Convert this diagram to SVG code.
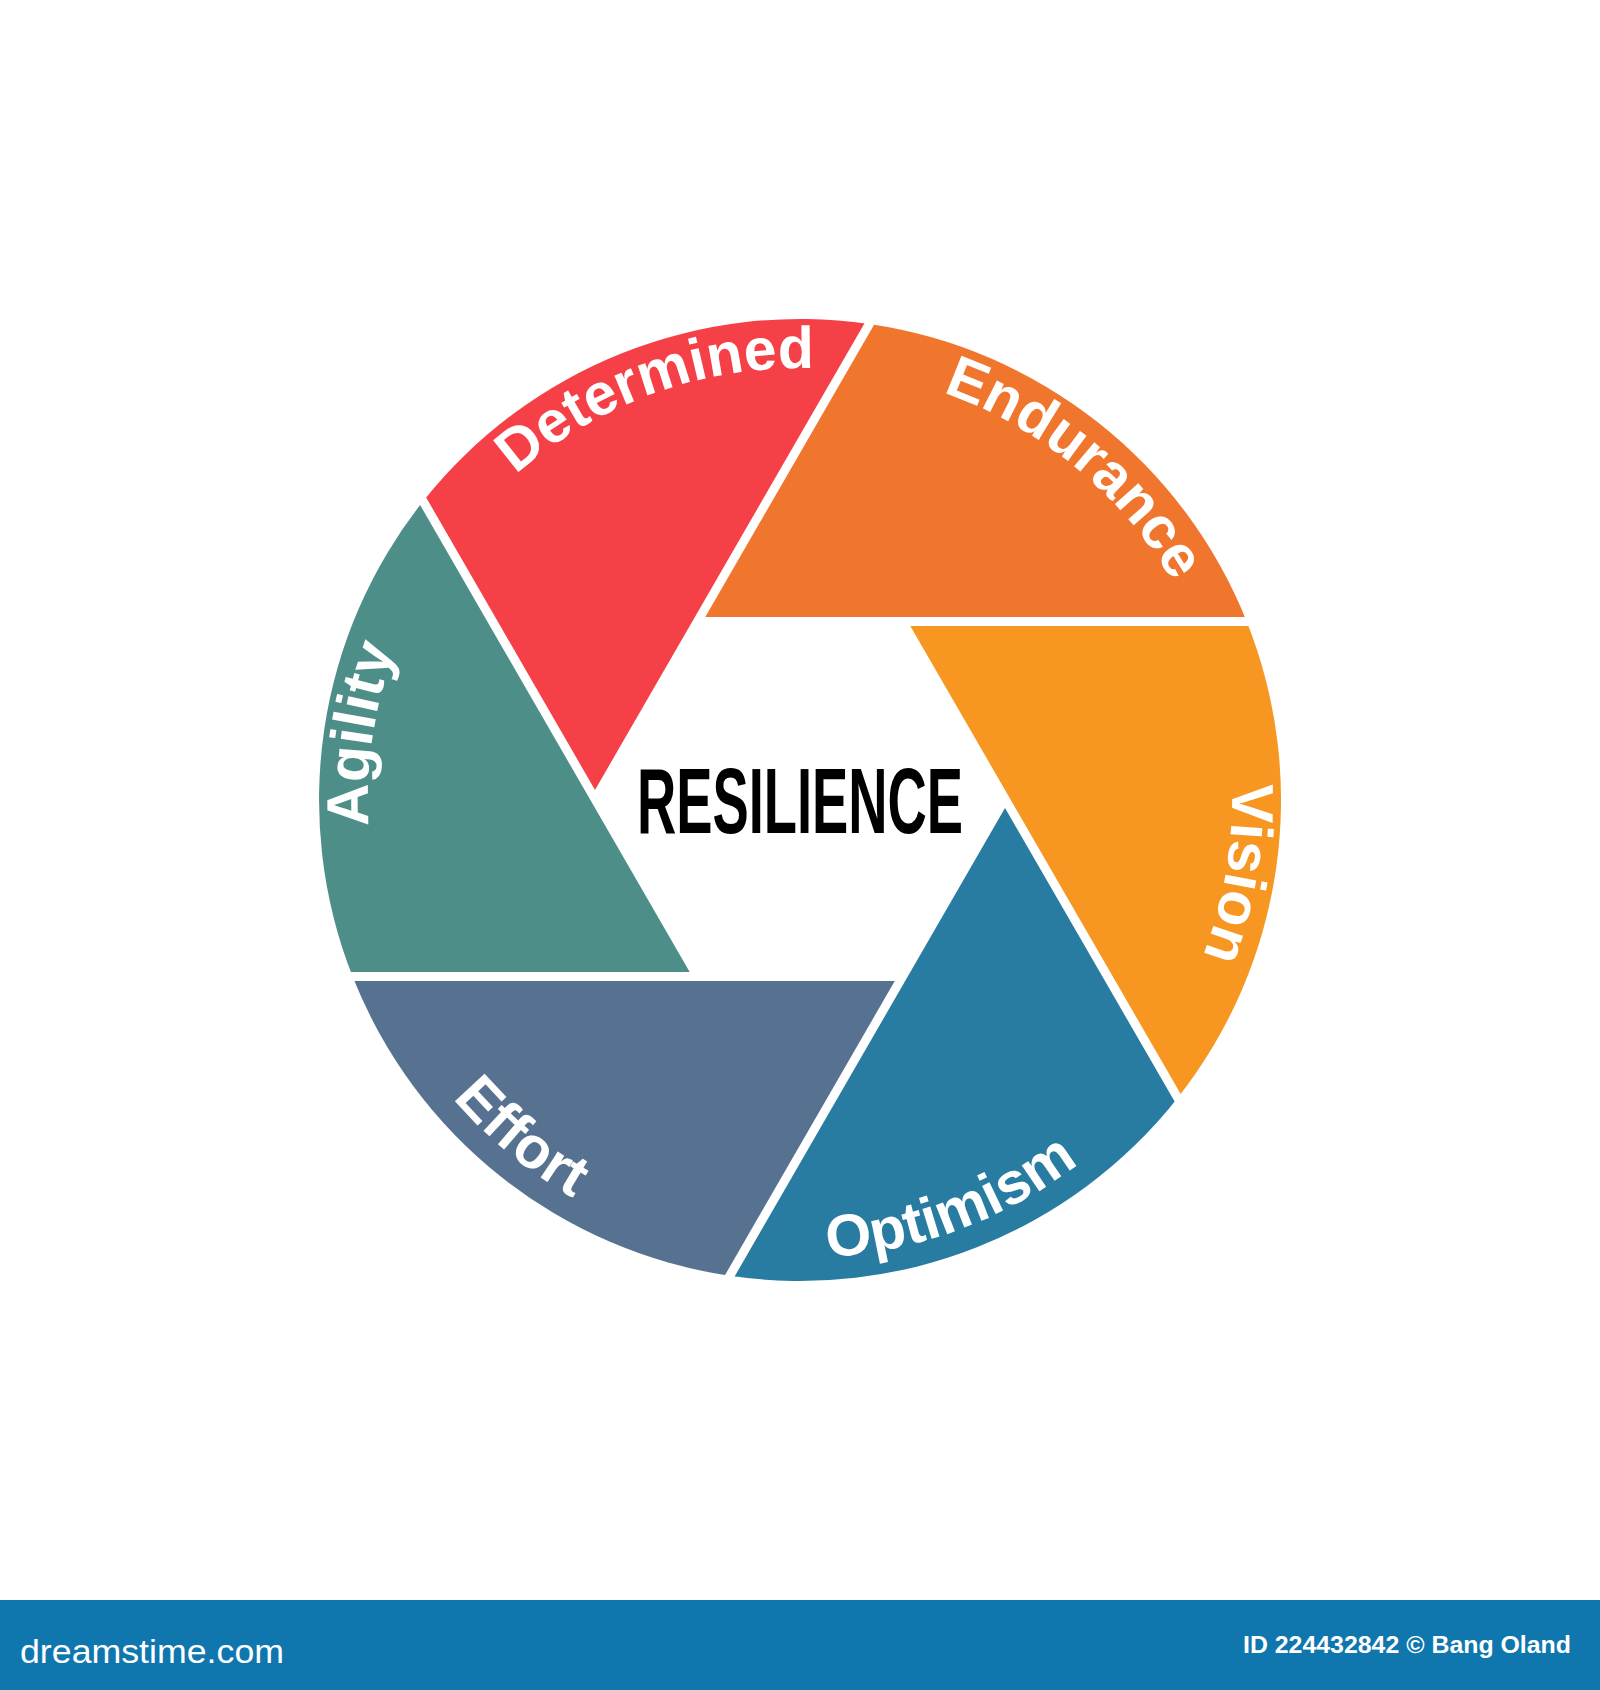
<svg xmlns="http://www.w3.org/2000/svg" width="1600" height="1690" viewBox="0 0 1600 1690">
  <style>
    .lbl { font-family: "Liberation Sans", Arial, sans-serif; font-weight: bold; font-size: 59px; fill: #ffffff; }
    .gap { stroke: #ffffff; stroke-width: 9; fill: none; }
    .title { font-family: "Liberation Sans", Arial, sans-serif; font-weight: bold; font-size: 92px; fill: #000000; }
    .foot { font-family: "Liberation Sans", Arial, sans-serif; fill: #ffffff; }
  </style>
  <defs>
    <path id="arcVision" d="M1012.7,424 A432,432 0 0 1 878.7,1224.8"/>
    <path id="arcOptimism" d="M451.7,1097.4 A458,458 0 0 0 1258,796"/>
    <path id="arcEffort" d="M368.3,647.1 A458,458 0 0 0 1032.4,1194.6"/>
    <path id="arcAgility" d="M587.3,1176 A432,432 0 0 1 721.3,375.2"/>
    <path id="arcDetermined" d="M368,803.8 A432,432 0 0 1 1128.5,519.5"/>
    <path id="arcEndurance" d="M580.8,427.8 A432,432 0 0 1 1207.2,944.2"/>
  </defs>
  <rect width="1600" height="1690" fill="#ffffff"/>

  <g id="blade-endurance">
    <path d="M697.5,621.5 L869.3,324 A481,481 0 0 1 1246.7,621.5 L902.5,621.5 Z" fill="#F0762E"/>
    <text class="lbl"><textPath href="#arcEndurance" startOffset="50%" text-anchor="middle">Endurance</textPath></text>
  </g>
  <g id="blade-vision">
    <path d="M902.5,621.5 L1246.7,621.5 A481,481 0 0 1 1177.6,1097.9 L1005,799 Z" fill="#F79621"/>
    <text class="lbl"><textPath href="#arcVision" startOffset="50%" text-anchor="middle">Vision</textPath></text>
  </g>
  <g id="blade-optimism">
    <path d="M1005,799 L1177.6,1097.9 A481,481 0 0 1 729.7,1275.8 L902.5,976.5 Z" fill="#287BA1"/>
    <text class="lbl"><textPath href="#arcOptimism" startOffset="50%" text-anchor="middle">Optimism</textPath></text>
  </g>
  <g id="blade-effort">
    <path d="M902.5,976.5 L729.7,1275.8 A481,481 0 0 1 352.6,976.5 L697.5,976.5 Z" fill="#577290"/>
    <text class="lbl"><textPath href="#arcEffort" startOffset="50%" text-anchor="middle">Effort</textPath></text>
  </g>
  <g id="blade-agility">
    <path d="M697.5,976.5 L352.6,976.5 A481,481 0 0 1 423.1,501.2 L595,799 Z" fill="#4E8E89"/>
    <text class="lbl"><textPath href="#arcAgility" startOffset="49.3%" text-anchor="middle">Agility</textPath></text>
  </g>
  <g id="blade-determined">
    <path d="M595,799 L423.1,501.2 A481,481 0 0 1 869.3,324 L697.5,621.5 Z" fill="#F64048"/>
    <text class="lbl"><textPath href="#arcDetermined" startOffset="50.6%" text-anchor="middle">Determined</textPath></text>
  </g>

  <g id="connectors">
    <line class="gap" x1="595" y1="799" x2="874.5" y2="315"/>
    <line class="gap" x1="697.5" y1="621.5" x2="1256" y2="621.5"/>
    <line class="gap" x1="902.5" y1="621.5" x2="1183" y2="1107"/>
    <line class="gap" x1="1005" y1="799" x2="724.5" y2="1285"/>
    <line class="gap" x1="902.5" y1="976.5" x2="343" y2="976.5"/>
    <line class="gap" x1="697.5" y1="976.5" x2="417.5" y2="491.5"/>
  </g>

  <g id="center">
    <text class="title" x="800" y="833" text-anchor="middle" textLength="326" lengthAdjust="spacingAndGlyphs">RESILIENCE</text>
  </g>

  <g id="footer">
    <rect x="0" y="1600" width="1600" height="90" fill="#1076AE"/>
    <text class="foot" x="20" y="1663" font-size="34" textLength="264" lengthAdjust="spacingAndGlyphs">dreamstime.com</text>
    <text class="foot" x="1571" y="1653" font-size="24" font-weight="bold" text-anchor="end" textLength="328" lengthAdjust="spacingAndGlyphs">ID 224432842 © Bang Oland</text>
  </g>
</svg>
